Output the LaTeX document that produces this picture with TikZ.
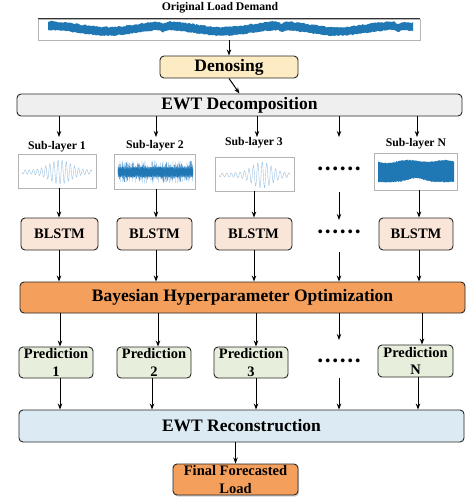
\documentclass[tikz,border=0pt]{standalone}
\usepackage{fontspec}
\setmainfont{Liberation Serif}
\usetikzlibrary{arrows.meta,shadows}
\definecolor{denfill}{HTML}{FCEBC3}
\definecolor{ewtfill}{HTML}{EFEFEF}
\definecolor{blfill}{HTML}{FAE6D8}
\definecolor{orfill}{HTML}{F4A05C}
\definecolor{prfill}{HTML}{E7EFDC}
\definecolor{rcfill}{HTML}{DCEBF3}
\definecolor{sigblue}{HTML}{1F77B4}
\definecolor{lightsig}{HTML}{9CC3E2}
\definecolor{midsig}{HTML}{5E9FD3}
\definecolor{sigframe}{HTML}{B4B4B4}
\newcommand{\sixdots}{\textbullet\hspace{2.6pt}\textbullet\hspace{2.6pt}\textbullet\hspace{2.6pt}\textbullet\hspace{2.6pt}\textbullet\hspace{2.6pt}\textbullet}
\tikzset{
  declare function={notch(\t)=exp(-(min(abs(\t),12)/2.5)^2);},
  box/.style={draw=black!85, line width=0.9pt, rounded corners=4pt, font=\bfseries, inner sep=0pt, align=center},
  bigbox/.style={box, font=\fontsize{17.5}{20}\selectfont\bfseries},
  midbox/.style={box, font=\fontsize{14.5}{17.5}\selectfont\bfseries},
  sigbox/.style={draw=sigframe, line width=0.6pt, fill=white, inner sep=0pt},
  lab/.style={font=\fontsize{11.7}{13}\selectfont\bfseries, inner sep=0pt},
  dots/.style={font=\fontsize{14}{14}\selectfont\bfseries, inner sep=0pt},
  arr/.style={-{Stealth[length=6pt,width=4.5pt]}, line width=1pt, black},
}
\begin{document}
\begin{tikzpicture}[x=1pt,y=-1pt]
\pgfmathsetseed{7}
\useasboundingbox (0,0) rectangle (474,498);
% top signal
\node[lab] (origt) at (220,8) {Original Load Demand};
\node[sigbox, minimum width=382pt, minimum height=21pt] (orig) at (229,29.5) {};
\draw[black!80, line width=0.8pt] (orig.north west) -- (orig.north east);
\fill[sigblue] (48,24) -- plot[samples at={0,...,260}, variable=\k]
  ({48+\k*1.404}, {28.6-2.8*cos((\k*1.404-2)*3.13) - 3.6 - 1.4*rnd
     + 2.5*notch(\k*1.404-115) + 2.5*notch(\k*1.404-234) + 2.5*notch(\k*1.404-350)})
  -- plot[samples at={260,...,0}, variable=\k]
  ({48+\k*1.404}, {28.6-2.8*cos((\k*1.404-2)*3.13) + 3.6 + 1.2*rnd
     + 2*notch(\k*1.404-115) + 2*notch(\k*1.404-234) + 2*notch(\k*1.404-350)})
  -- cycle;
% denoising and EWT
\node[bigbox, fill=denfill, minimum width=138pt, minimum height=22pt] (den) at (229,67) {Denosing};
\node[bigbox, fill=ewtfill, minimum width=445pt, minimum height=22pt] (ewt) at (239.5,105) {EWT Decomposition};
\draw[arr] (orig.south -| den.north) -- (den.north);
\draw[arr] (den.south) -- (ewt.north);
% sub-layer labels
\node[lab] (l1) at (57,147) {Sub-layer 1};
\node[lab] (l2) at (155,146) {Sub-layer 2};
\node[lab] (l3) at (254,143) {Sub-layer 3};
\node[lab] (lN) at (416,144) {Sub-layer N};
% signal boxes
\node[sigbox, minimum width=78pt, minimum height=34pt] (s1) at (57,171) {};
\node[sigbox, minimum width=81pt, minimum height=35pt] (s2) at (154.5,171.5) {};
\node[sigbox, minimum width=79pt, minimum height=34pt] (s3) at (254.5,174) {};
\node[sigbox, minimum width=83pt, minimum height=37pt] (sN) at (415.5,171.5) {};
\draw[lightsig, line width=0.4pt] plot[domain=22:92, samples=500]
  (\x, {172 + (2+10*exp(-((\x-60)/15)^2))*sin((\x-22)*87.43)});
\draw[lightsig, line width=0.4pt] plot[domain=219:290, samples=500]
  (\x, {175 + (2+11*exp(-((\x-262)/14)^2))*sin((\x-219)*81.13)});
\draw[midsig, line width=0.3pt] plot[samples at={0,...,300}, variable=\k]
  ({118+\k*0.25}, {172 + (2*mod(\k,2)-1)*(4.5+7*rnd^2)});
\draw[sigblue, line width=0.4pt] plot[samples at={0,...,300}, variable=\k]
  ({118+\k*0.25}, {172 + (2*mod(\k,2)-1)*(3+2.5*rnd)});
\fill[sigblue] (378,161) -- plot[samples at={0,...,150}, variable=\k]
  ({378+\k*0.507}, {161 + 1.5*sin(\k*4.8) - 1.2*exp(-((\k-90)/20)^2) + 1.2*rnd})
  -- plot[samples at={150,...,0}, variable=\k]
  ({378+\k*0.507}, {182.5 - 4*exp(-((\k-75)/22)^2) - 1.2*rnd}) -- cycle;
\node[dots] (d1) at (339,170) {\sixdots};
% BLSTM
\node[midbox, fill=blfill, minimum width=77pt, minimum height=32pt] (b1) at (59.5,234) {BLSTM};
\node[midbox, fill=blfill, minimum width=75pt, minimum height=32pt] (b2) at (154.5,234) {BLSTM};
\node[midbox, fill=blfill, minimum width=77pt, minimum height=32pt] (b3) at (253.5,234) {BLSTM};
\node[midbox, fill=blfill, minimum width=74pt, minimum height=32pt] (bN) at (416,234) {BLSTM};
\node[dots] (d2) at (339,233) {\sixdots};
% Bayes
\node[bigbox, fill=orfill, minimum width=445pt, minimum height=31pt] (bay) at (242.5,297.5) {Bayesian Hyperparameter Optimization};
% Predictions
\node[midbox, fill=prfill, minimum width=74pt, minimum height=31pt] (p1) at (56,362.5) {Prediction\\1};
\node[midbox, fill=prfill, minimum width=74pt, minimum height=31pt] (p2) at (154,362.5) {Prediction\\2};
\node[midbox, fill=prfill, minimum width=74pt, minimum height=31pt] (p3) at (251,362.5) {Prediction\\3};
\node[midbox, fill=prfill, minimum width=75pt, minimum height=32pt] (pN) at (415.5,361) {Prediction\\N};
\node[dots] (d3) at (339,362) {\sixdots};
% Reconstruction and final
\node[bigbox, fill=rcfill, minimum width=445pt, minimum height=32pt] (rec) at (241.5,426) {EWT Reconstruction};
\node[midbox, fill=orfill, minimum width=125pt, minimum height=31pt, drop shadow={shadow xshift=1pt, shadow yshift=-1.5pt, opacity=0.35}] (fin) at (235.5,479.5) {Final Forecasted\\Load};
% column coordinates for the dotted column
\coordinate (c4a) at (339,137);
\coordinate (c4b) at (339,192);
\coordinate (c4c) at (339,220);
\coordinate (c4d) at (339,252);
\coordinate (c4e) at (339,340);
\coordinate (c4f) at (339,378);
% EWT -> sub-layer labels
\draw[arr] (ewt.south -| 59,0) -- (59,137);
\draw[arr] (ewt.south -| 156,0) -- (156,137);
\draw[arr] (ewt.south -| 257,0) -- (257,137);
\draw[arr] (ewt.south -| c4a) -- (c4a);
\draw[arr] (ewt.south -| 417,0) -- (417,137);
% signal -> BLSTM
\draw[arr] (s1.south -| 59,0) -- (b1.north -| 59,0);
\draw[arr] (s2.south -| 156,0) -- (b2.north -| 156,0);
\draw[arr] (s3.south -| 254,0) -- (b3.north -| 254,0);
\draw[arr] (c4b) -- (c4c);
\draw[arr] (sN.south -| 419,0) -- (bN.north -| 419,0);
% BLSTM -> Bayes
\draw[arr] (b1.south -| 59,0) -- (bay.north -| 59,0);
\draw[arr] (b2.south -| 156,0) -- (bay.north -| 156,0);
\draw[arr] (b3.south -| 254,0) -- (bay.north -| 254,0);
\draw[arr] (c4d) -- (bay.north -| c4d);
\draw[arr] (bN.south -| 419,0) -- (bay.north -| 419,0);
% Bayes -> predictions
\draw[arr] (bay.south -| 60,0) -- (p1.north -| 60,0);
\draw[arr] (bay.south -| 158,0) -- (p2.north -| 158,0);
\draw[arr] (bay.south -| 256,0) -- (p3.north -| 256,0);
\draw[arr] (bay.south -| c4e) -- (c4e);
\draw[arr] (bay.south -| 422,0) -- (pN.north -| 422,0);
% predictions -> reconstruction
\draw[arr] (p1.south -| 60,0) -- (rec.north -| 60,0);
\draw[arr] (p2.south -| 152,0) -- (rec.north -| 152,0);
\draw[arr] (p3.south -| 256,0) -- (rec.north -| 256,0);
\draw[arr] (c4f) -- (rec.north -| c4f);
\draw[arr] (pN.south -| 418,0) -- (rec.north -| 418,0);
% reconstruction -> final
\draw[arr] (rec.south -| fin.north) -- (fin.north);
\end{tikzpicture}
\end{document}
